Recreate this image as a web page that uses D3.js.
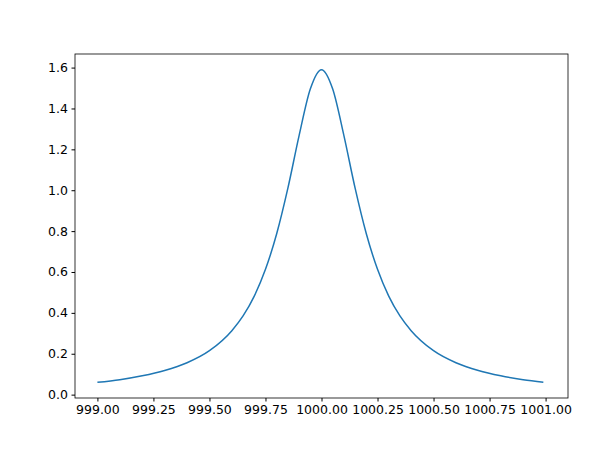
<!DOCTYPE html>
<html><head><meta charset="utf-8">
<script src="https://cdn.jsdelivr.net/npm/d3@7"></script>
<style>body{margin:0;background:#fff}</style>
</head><body>
<svg id="chart" width="600" height="450"></svg>
<script>
// values
var xs = [999.0, 999.1, 999.2, 999.3, 999.4, 999.5, 999.6, 999.65, 999.7, 999.75, 999.8, 999.85, 999.9, 999.95,
          1000.0, 1000.05, 1000.1, 1000.15, 1000.2, 1000.25, 1000.3, 1000.35, 1000.4, 1000.5, 1000.6, 1000.7, 1000.8, 1000.9, 1000.99];
var ys = [0.060, 0.073, 0.092, 0.118, 0.156, 0.215, 0.313, 0.385, 0.482, 0.613, 0.787, 1.010, 1.267, 1.495,
          1.590, 1.495, 1.267, 1.010, 0.787, 0.613, 0.482, 0.385, 0.313, 0.215, 0.156, 0.118, 0.092, 0.073, 0.061];
var xticks = [999.0, 999.25, 999.5, 999.75, 1000.0, 1000.25, 1000.5, 1000.75, 1001.0];
var yticks = [0.0, 0.2, 0.4, 0.6, 0.8, 1.0, 1.2, 1.4, 1.6];

var svg = d3.select("#chart");
var mLeft = 75, mRight = 568, mTop = 54, mBottom = 398;

var x = d3.scaleLinear().domain([998.9, 1001.1]).range([mLeft, mRight]);
var y = d3.scaleLinear().domain([-0.0165, 1.6665]).range([mBottom, mTop]);

svg.append("g").attr("transform", "translate(0," + mBottom + ")")
  .call(d3.axisBottom(x).tickValues(xticks).tickFormat(d3.format(".2f")).tickSizeOuter(0).tickSize(3.5).tickPadding(3.5));
svg.append("g").attr("transform", "translate(" + mLeft + ",0)")
  .call(d3.axisLeft(y).tickValues(yticks).tickFormat(d3.format(".1f")).tickSizeOuter(0).tickSize(3.5).tickPadding(3.5));
svg.selectAll(".tick text").attr("font-family", "DejaVu Sans").attr("font-size", 12.5).attr("fill", "#000");
svg.selectAll(".domain").remove();

svg.append("path")
  .datum(xs.map((d, i) => [d, ys[i]]))
  .attr("fill", "none").attr("stroke", "#1f77b4").attr("stroke-width", 1.5)
  .attr("d", d3.line().x(d => x(d[0])).y(d => y(d[1])).curve(d3.curveMonotoneX));

svg.append("rect").attr("x", mLeft).attr("y", mTop).attr("width", mRight - mLeft).attr("height", mBottom - mTop)
  .attr("fill", "none").attr("stroke", "#000").attr("stroke-width", 0.8);
</script>
</body></html>
